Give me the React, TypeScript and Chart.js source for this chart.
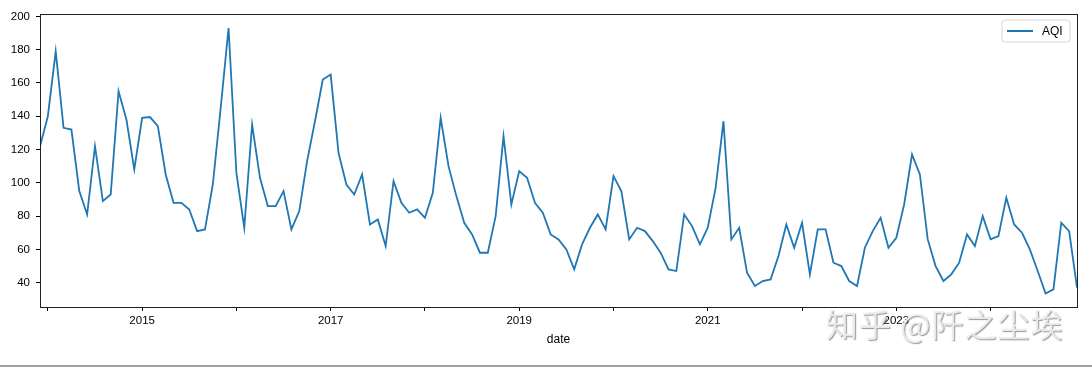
import React, { useEffect, useRef } from "react";
import { Chart, registerables } from "chart.js";

Chart.register(...registerables);

// Monthly AQI, Dec 2013 .. Dec 2024 (index 0 = 2013-12)
const seriesLabel = "AQI";
const startYear = 2013;
const startMonth = 12;
const aqiValues = [
  122, 140, 179, 133, 132, 95, 81, 122, 89, 93, 155, 138,
  108, 139, 139.5, 134, 105, 88, 88, 84, 71, 72, 99, 145,
  193, 106, 73, 135, 103, 86, 86, 95, 72, 83, 113, 137,
  162, 165, 118, 99, 93, 105, 75, 78, 62, 101, 88, 82,
  84, 79, 94, 139, 110, 92, 76, 69, 58, 58, 80, 128,
  87, 107, 103, 88, 82, 69, 66, 60, 48, 63, 73, 81,
  72, 104, 95, 66, 73, 71, 65, 58, 48, 47, 81, 74,
  63, 73, 97, 137, 66, 73, 46, 38, 41, 42, 56, 75,
  61, 76, 45, 72, 72, 52, 50, 41, 38, 61, 71, 79,
  61, 67, 87, 117, 105, 66, 50, 41, 45, 52, 69, 62,
  80, 66, 68, 91, 75, 70, 60, 47, 33.5, 36, 76, 71,
  37,
];
const labeledYears = [2015, 2017, 2019, 2021, 2023];
const minorYears = [2014, 2016, 2018, 2020, 2022, 2024];
const yTicks = [40, 60, 80, 100, 120, 140, 160, 180, 200];
const xTitle = "date";
const watermark = "知乎 @阡之尘埃";

const yearIndex = (y: number) => (y - startYear) * 12 + (1 - startMonth);

const FONT = "'Liberation Sans', Arial, sans-serif";

export default function App() {
  const ref = useRef<HTMLCanvasElement | null>(null);

  useEffect(() => {
    if (!ref.current) return;
    const points = aqiValues.map((v, i) => ({ x: i, y: v }));
    const allYears = [...labeledYears, ...minorYears].sort((a, b) => a - b);

    const framePlugin = {
      id: "frameAndLegend",
      afterDraw(chart: any) {
        const { ctx, chartArea } = chart;
        ctx.save();
        ctx.strokeStyle = "#222";
        ctx.lineWidth = 1;
        ctx.strokeRect(
          Math.round(chartArea.left) + 0.5,
          Math.round(chartArea.top) + 0.5,
          Math.round(chartArea.right - chartArea.left),
          Math.round(chartArea.bottom - chartArea.top)
        );
        // legend
        const bx = chartArea.right - 75;
        const by = chartArea.top + 6;
        const bw = 68;
        const bh = 22;
        const r = 3;
        ctx.beginPath();
        ctx.moveTo(bx + r, by);
        ctx.lineTo(bx + bw - r, by);
        ctx.quadraticCurveTo(bx + bw, by, bx + bw, by + r);
        ctx.lineTo(bx + bw, by + bh - r);
        ctx.quadraticCurveTo(bx + bw, by + bh, bx + bw - r, by + bh);
        ctx.lineTo(bx + r, by + bh);
        ctx.quadraticCurveTo(bx, by + bh, bx, by + bh - r);
        ctx.lineTo(bx, by + r);
        ctx.quadraticCurveTo(bx, by, bx + r, by);
        ctx.closePath();
        ctx.fillStyle = "rgba(255,255,255,0.8)";
        ctx.fill();
        ctx.strokeStyle = "#d6d6d6";
        ctx.stroke();
        ctx.beginPath();
        ctx.strokeStyle = "#1f77b4";
        ctx.lineWidth = 2;
        ctx.moveTo(bx + 5, by + bh / 2);
        ctx.lineTo(bx + 31, by + bh / 2);
        ctx.stroke();
        ctx.fillStyle = "#000";
        ctx.font = `12px ${FONT}`;
        ctx.textBaseline = "middle";
        ctx.textAlign = "left";
        ctx.fillText(chart.data.datasets[0].label, bx + 40, by + bh / 2 + 0.5);
        ctx.restore();
      },
    };

    const chart = new Chart(ref.current, {
      type: "line",
      data: {
        datasets: [
          {
            label: seriesLabel,
            data: points,
            borderColor: "#1f77b4",
            borderWidth: 1.8,
            pointRadius: 0,
            tension: 0,
            fill: false,
          },
        ],
      },
      options: {
        animation: false,
        responsive: false,
        devicePixelRatio: 1,
        layout: { padding: { top: 14, right: 15, bottom: 0, left: 0 } },
        plugins: {
          legend: { display: false },
          tooltip: { enabled: false },
        },
        scales: {
          x: {
            type: "linear",
            min: 0,
            max: aqiValues.length - 1,
            afterBuildTicks: (scale: any) => {
              scale.ticks = allYears.map((y) => ({ value: yearIndex(y) }));
            },
            afterFit: (scale: any) => {
              scale.height = 64;
            },
            ticks: {
              autoSkip: false,
              maxRotation: 0,
              padding: 3,
              color: "#000",
              font: { family: FONT, size: 11.5 },
              callback: (value: any) => {
                const y = allYears.find((yy) => yearIndex(yy) === value);
                return y !== undefined && labeledYears.includes(y) ? String(y) : "";
              },
            },
            grid: {
              display: true,
              drawOnChartArea: false,
              drawTicks: true,
              tickLength: 4,
              tickColor: "#000",
              color: "#000",
            },
            border: { display: true, color: "#222" },
            title: {
              display: true,
              text: xTitle,
              color: "#000",
              font: { family: FONT, size: 12 },
              padding: { top: 0, bottom: 24 },
            },
          },
          y: {
            type: "linear",
            min: 25.4,
            max: 201.4,
            afterBuildTicks: (scale: any) => {
              scale.ticks = yTicks.map((v) => ({ value: v }));
            },
            afterFit: (scale: any) => {
              scale.width = 40;
            },
            ticks: {
              padding: 6,
              color: "#000",
              font: { family: FONT, size: 11.5 },
            },
            grid: {
              display: true,
              drawOnChartArea: false,
              drawTicks: true,
              tickLength: 4,
              tickColor: "#000",
              color: "#000",
            },
            border: { display: true, color: "#222" },
          },
        },
      },
      plugins: [framePlugin],
    } as any);

    return () => chart.destroy();
  }, []);

  return (
    <div
      style={{
        position: "absolute",
        left: 0,
        top: 0,
        width: 1092,
        height: 371,
        background: "#fff",
        overflow: "hidden",
      }}
    >
      <canvas ref={ref} width={1092} height={371} style={{ display: "block" }} />
      <div
        style={{
          position: "absolute",
          left: 826,
          top: 304,
          fontFamily: "'Noto Sans CJK SC', sans-serif",
          fontSize: 32,
          lineHeight: "38px",
          color: "rgba(238,238,238,0.92)",
          textShadow: "1px 1px 1px rgba(110,110,110,0.7)",
          whiteSpace: "nowrap",
          letterSpacing: 1,
        }}
      >
        {watermark}
      </div>
      <div
        style={{
          position: "absolute",
          left: 0,
          top: 365,
          width: 1092,
          height: 2,
          background: "#a0a0a0",
        }}
      />
    </div>
  );
}
